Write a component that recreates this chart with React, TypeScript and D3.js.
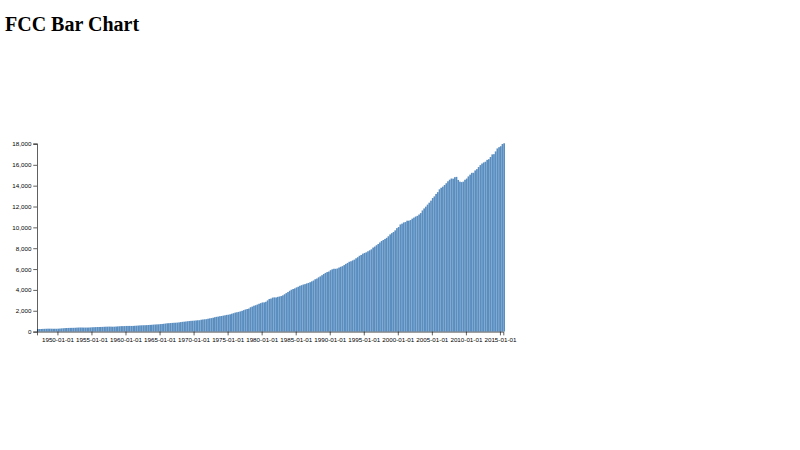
import React, { useEffect, useRef } from "react";
import * as d3 from "d3";

const startYear = 1947;
const quarterMonths = ["01", "04", "07", "10"];

// US GDP (billions of dollars), quarterly from 1947-01-01 to 2015-07-01
const gdpValues: number[] = [
  243.1, 246.3, 250.1, 260.3, 266.2, 272.9, 279.5, 280.7, 275.4, 271.7, 273.3, 271.0,
  281.2, 290.7, 308.5, 320.3, 336.4, 344.5, 351.8, 356.6, 360.2, 361.4, 368.1, 381.2,
  388.5, 392.3, 391.7, 386.5, 385.9, 386.7, 391.6, 400.3, 413.8, 422.2, 430.9, 437.8,
  440.5, 446.8, 452.0, 461.3, 470.6, 472.8, 480.3, 475.7, 468.4, 472.8, 486.7, 500.4,
  511.1, 524.2, 525.2, 529.3, 543.3, 542.7, 546.0, 541.1, 545.9, 557.4, 568.2, 581.6,
  595.2, 602.6, 609.6, 613.1, 622.7, 631.8, 645.0, 654.8, 671.1, 680.8, 692.8, 698.4,
  719.2, 732.4, 750.2, 773.1, 797.3, 807.2, 820.8, 834.9, 846.0, 851.1, 866.6, 883.2,
  911.1, 936.3, 952.3, 970.1, 995.4, 1011.4, 1032.0, 1040.7, 1053.5, 1070.1, 1088.5, 1091.5,
  1137.8, 1159.4, 1180.3, 1193.6, 1233.8, 1270.1, 1293.8, 1332.0, 1380.7, 1417.6, 1436.8, 1479.1,
  1494.7, 1534.2, 1563.4, 1603.0, 1619.6, 1656.4, 1713.8, 1765.9, 1824.5, 1856.9, 1890.5, 1938.4,
  1992.5, 2060.2, 2122.4, 2168.7, 2208.7, 2336.6, 2398.9, 2482.2, 2531.6, 2595.9, 2670.4, 2730.7,
  2796.5, 2799.9, 2860.0, 2993.5, 3131.8, 3167.3, 3261.2, 3283.5, 3273.8, 3331.3, 3367.1, 3407.8,
  3480.3, 3583.8, 3692.3, 3796.1, 3912.8, 4015.0, 4087.4, 4147.6, 4237.0, 4302.3, 4394.6, 4453.1,
  4516.3, 4555.2, 4619.6, 4669.4, 4736.2, 4821.5, 4900.5, 5022.7, 5090.6, 5207.7, 5299.5, 5412.7,
  5527.4, 5628.4, 5711.6, 5763.4, 5890.8, 5974.7, 6029.5, 6023.3, 6054.9, 6143.6, 6218.4, 6279.3,
  6380.8, 6492.3, 6586.5, 6697.6, 6748.2, 6829.6, 6904.2, 7032.8, 7136.3, 7269.8, 7352.3, 7476.7,
  7545.3, 7604.9, 7706.5, 7799.5, 7893.1, 8061.5, 8159.0, 8287.1, 8402.1, 8551.9, 8691.8, 8788.3,
  8889.7, 8994.7, 9146.5, 9325.7, 9447.1, 9557.0, 9712.3, 9926.1, 10031.0, 10278.3, 10357.4, 10472.3,
  10508.1, 10638.4, 10639.5, 10701.3, 10834.4, 10934.8, 11037.1, 11103.8, 11230.1, 11370.7, 11625.1, 11816.8,
  11988.4, 12181.4, 12367.7, 12562.2, 12813.7, 12974.1, 13205.4, 13381.6, 13648.9, 13799.8, 13908.5, 14066.4,
  14233.2, 14422.3, 14569.7, 14685.3, 14668.4, 14813.0, 14843.0, 14549.9, 14383.9, 14340.4, 14384.1, 14566.5,
  14681.1, 14888.6, 15057.7, 15230.2, 15238.4, 15460.9, 15587.1, 15785.3, 15973.9, 16121.9, 16227.9, 16297.3,
  16475.4, 16541.4, 16749.3, 16999.9, 17025.2, 17285.6, 17569.4, 17692.2, 17783.6, 17998.3, 18064.7,
];

const quarterDates: string[] = gdpValues.map(
  (_, i) => `${startYear + Math.floor(i / 4)}-${quarterMonths[i % 4]}-01`
);

const yTickValues = [0, 2000, 4000, 6000, 8000, 10000, 12000, 14000, 16000, 18000];
const xTickYears = [1950, 1955, 1960, 1965, 1970, 1975, 1980, 1985, 1990, 1995, 2000, 2005, 2010, 2015];
const titleText = "FCC Bar Chart";

const W = 800;
const H = 450;
const left = 37;
const right = 503.3;
const bottom = 331.6;
const top = 143.3;
const s = 0.625;

export default function App() {
  const gRef = useRef<SVGGElement>(null);

  useEffect(() => {
    const g = d3.select(gRef.current);
    g.selectAll("*").remove();
    const parse = d3.timeParse("%Y-%m-%d");
    const dates = quarterDates.map((d) => parse(d) as Date);
    const x = d3
      .scaleTime()
      .domain([dates[0], dates[dates.length - 1]])
      .range([left, right]);
    const y = d3
      .scaleLinear()
      .domain([0, d3.max(gdpValues) as number])
      .range([bottom, top]);
    const bw = (right - left) / gdpValues.length;

    g.append("g")
      .selectAll("rect")
      .data(gdpValues)
      .join("rect")
      .attr("x", (_, i) => x(dates[i]))
      .attr("y", (d) => y(d))
      .attr("width", bw)
      .attr("height", (d) => bottom - y(d))
      .attr("fill", "#5a8ec0");

    const fmt = d3.timeFormat("%Y-%m-%d");
    const xAxis = d3
      .axisBottom(x)
      .tickValues(xTickYears.map((yr) => new Date(yr, 0, 1)))
      .tickFormat((d) => fmt(d as Date))
      .tickSize(6 * s)
      .tickPadding(3 * s);
    const yAxis = d3
      .axisLeft(y)
      .tickValues(yTickValues)
      .tickFormat(d3.format(","))
      .tickSize(6 * s)
      .tickPadding(3 * s);

    const gx = g.append("g").attr("transform", `translate(0,${bottom})`).call(xAxis as any);
    const gy = g.append("g").attr("transform", `translate(${left},0)`).call(yAxis as any);
    [gx, gy].forEach((a) => {
      a.attr("font-size", 10 * s).attr("font-family", "'Liberation Sans', Arial, sans-serif");
      a.selectAll("path").attr("stroke-width", s);
      a.selectAll("line").attr("stroke-width", s);
    });
  }, []);

  return (
    <svg
      width={W}
      height={H}
      style={{ position: "absolute", left: 0, top: 0, background: "#fff" }}
    >
      <text
        x={5}
        y={31}
        fontFamily="'Liberation Serif', 'Times New Roman', serif"
        fontWeight="bold"
        fontSize={20}
        fill="#000"
      >
        {titleText}
      </text>
      <g ref={gRef} />
    </svg>
  );
}
